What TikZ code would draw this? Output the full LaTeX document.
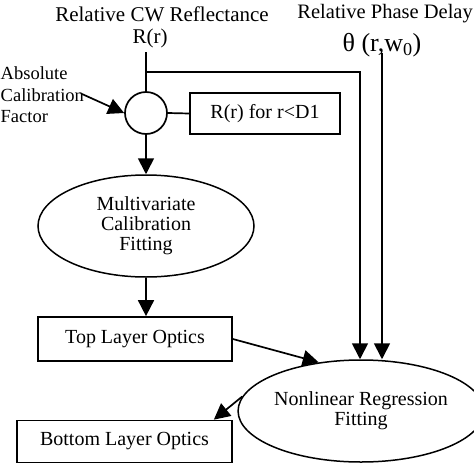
\documentclass[tikz,border=0pt]{standalone}
\usepackage{fontspec}
\setmainfont{Liberation Serif}
\usetikzlibrary{shapes.geometric,arrows.meta}
\begin{document}
\begin{tikzpicture}[x=1pt,y=-1pt,
  every node/.style={font=\fontsize{20}{20}\selectfont},
  ln/.style={line width=1.7pt},
  arr/.style={ln,-{Triangle[width=16pt,length=16pt]}},
  boxn/.style={draw,line width=1.7pt,rectangle,inner sep=0pt},
  ell/.style={draw,line width=1.5pt,ellipse,inner sep=0pt,align=center}]
\useasboundingbox (0,0) rectangle (474,474);
% labels
\node (t1) at (162,14) {\fontsize{21}{22}\selectfont Relative CW Reflectance};
\node[anchor=east,inner sep=1pt] (t2) at (474,14) {\fontsize{20.5}{22}\selectfont Relative Phase Delay};
\node (rlab) at (150,38) {\fontsize{21}{22}\selectfont R(r)};
\node (th) at (382,45) {\fontsize{26}{26}\selectfont θ (r,w\textsubscript{0})};
\node[anchor=west,align=left,inner sep=0.5pt,font=\fontsize{18.5}{21.5}\selectfont] (abs) at (0,95) {Absolute\\Calibration\\Factor};
% nodes
\node[circle,draw,line width=1.7pt,minimum size=42pt,inner sep=0pt] (c) at (146,113) {};
\node[boxn,minimum width=150pt,minimum height=41pt] (rb) at (265,113.5) {R(r) for r<D1};
\node[ell,minimum width=216pt,minimum height=102pt] (e1) at (146,226) {Multivariate\\Calibration\\Fitting};
\node[boxn,minimum width=194pt,minimum height=44pt] (top) at (135,339) {Top Layer Optics};
\node[ell,minimum width=216pt,minimum height=102pt] (e2) at (361,411) {Nonlinear Regression\\Fitting};
\node[boxn,minimum width=215pt,minimum height=42pt] (bot) at (124.5,441.5) {Bottom Layer Optics};
% coordinates
\coordinate (rt) at (146,52);
\coordinate (br) at (146,72);
\coordinate (cr) at (360,72);
\coordinate (tht) at (382,53);
\coordinate (absend) at (82,94);
% connectors
\draw[ln] (rt) -- (c.north);
\draw[arr] (br) -- (cr) -- (cr |- e2.north);
\draw[arr] (tht) -- (tht |- e2.north);
\draw[ln] (c.east) -- (rb.west);
\draw[arr] (absend) -- (c.west);
\draw[arr] (c.south) -- (e1.north);
\draw[arr] (e1.south) -- (e1.south |- top.north);
\draw[arr] (top.east) -- (e2.131);
\draw[arr] (e2.173) -- ([xshift=-19pt]bot.north east);
\end{tikzpicture}
\end{document}
